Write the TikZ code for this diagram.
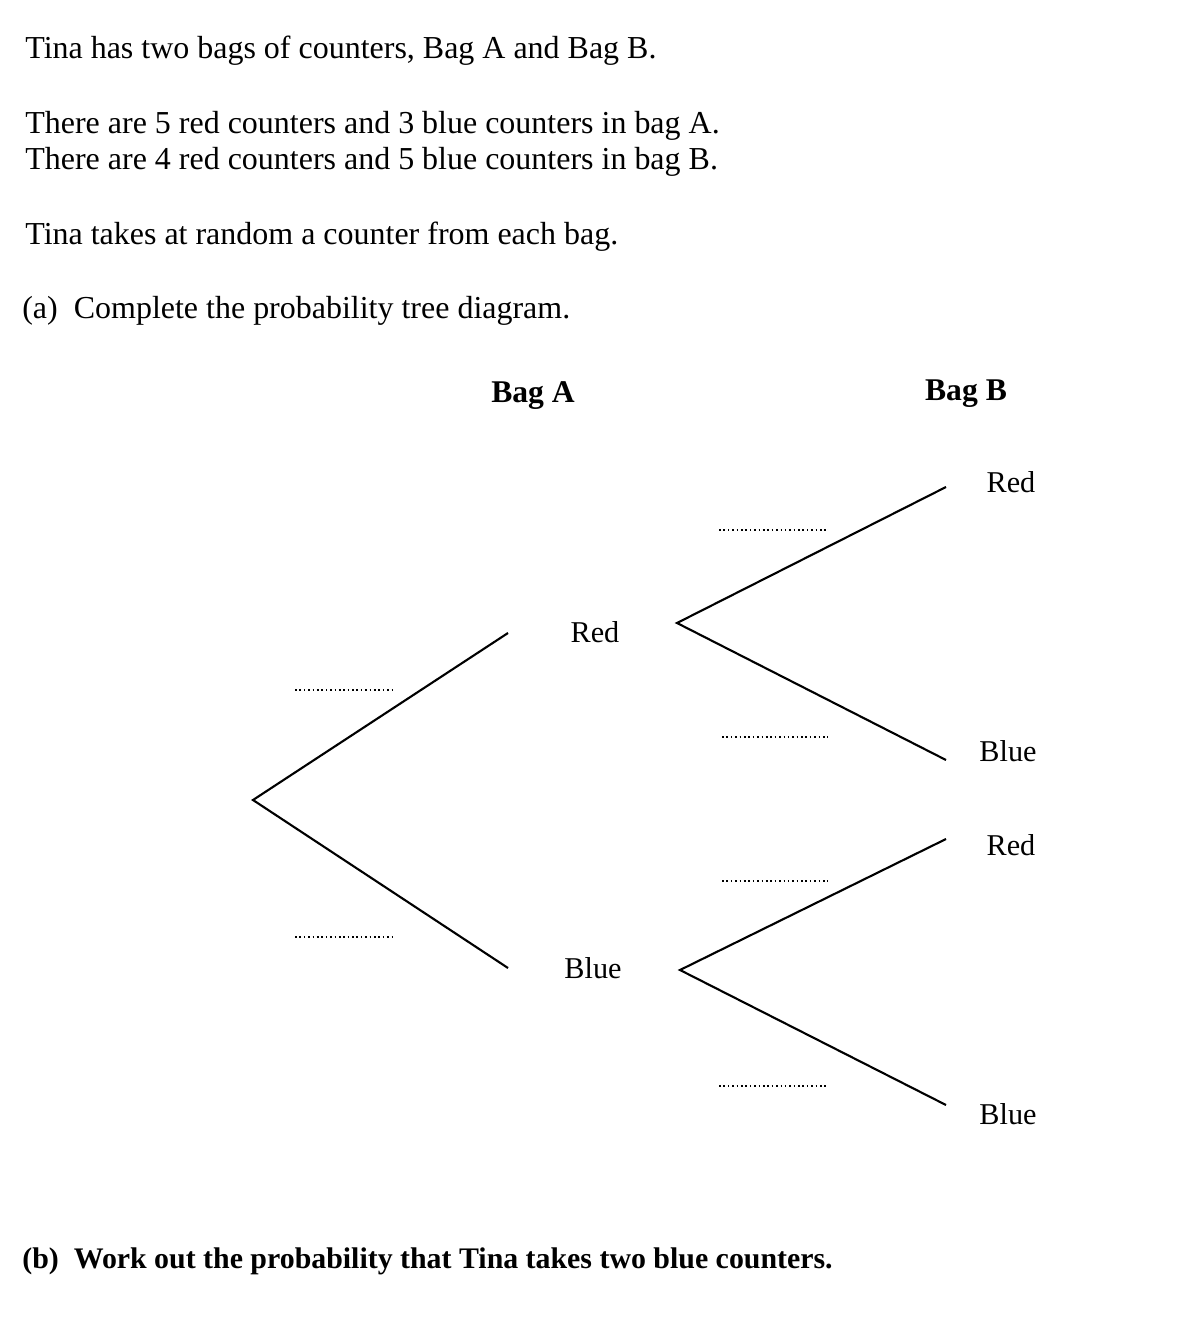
\documentclass[tikz,border=0pt]{standalone}
\usepackage{fontspec}
\setmainfont{Liberation Serif}
\usepackage{tikz}
\usetikzlibrary{positioning}

\tikzset{
  line/.style={draw=black, line width=1.2pt},
  txt/.style={anchor=base west, inner sep=0pt, font=\fontsize{18.2}{21}\selectfont},
  bag/.style={anchor=base, inner sep=0pt, font=\fontsize{18}{20}\selectfont\bfseries},
  outcome/.style={anchor=base, inner sep=0pt, font=\fontsize{17.2}{20}\selectfont},
  blank/.style={draw=black, line width=0.9pt, dash pattern=on 0.9pt off 1.6pt}
}

\begin{document}
\begin{tikzpicture}[x=0.02cm, y=-0.02cm]
\useasboundingbox (0,0) rectangle (1199,1335);

% question text
\node[txt] (intro) at (25,59) {Tina has two bags of counters, Bag A and Bag B.};
\node[txt] (bagAtxt) at (25,133) {There are 5 red counters and 3 blue counters in bag A.};
\node[txt] (bagBtxt) at (25,169) {There are 4 red counters and 5 blue counters in bag B.};
\node[txt] (takes) at (25,244) {Tina takes at random a counter from each bag.};
\node[txt] (parta) at (22,318) {(a)\ \ Complete the probability tree diagram.};

% headings
\node[bag] (headA) at (533,402) {Bag A};
\node[bag] (headB) at (966,400) {Bag B};

% first bag
\coordinate (root) at (253,800);
\coordinate (aRend) at (508,633);
\coordinate (aBend) at (508,968);
\node[outcome] (aR) at (595,642) {Red};
\node[outcome] (aB) at (593,978) {Blue};
\draw[line] (aRend) -- (root) -- (aBend);

% second bag
\coordinate (rStart) at (677,623);
\coordinate (bStart) at (680,970);
\coordinate (rRend) at (946,487);
\coordinate (rBend) at (946,760);
\coordinate (bRend) at (946,839);
\coordinate (bBend) at (946,1105);
\node[outcome] (rR) at (1011,492) {Red};
\node[outcome] (rB) at (1008,761) {Blue};
\node[outcome] (bR) at (1011,855) {Red};
\node[outcome] (bB) at (1008,1124) {Blue};
\draw[line] (rRend) -- (rStart) -- (rBend);
\draw[line] (bRend) -- (bStart) -- (bBend);

% answer spaces
\draw[blank] (295,690) -- (393,690);
\draw[blank] (295,937) -- (393,937);
\draw[blank] (719,530) -- (828,530);
\draw[blank] (722,737) -- (828,737);
\draw[blank] (722,881) -- (828,881);
\draw[blank] (719,1086) -- (828,1086);

% part b
\node[txt, font=\fontsize{17}{20}\selectfont\bfseries] (partb) at (22,1268) {(b)\ \ Work out the probability that Tina takes two blue counters.};
\end{tikzpicture}
\end{document}
